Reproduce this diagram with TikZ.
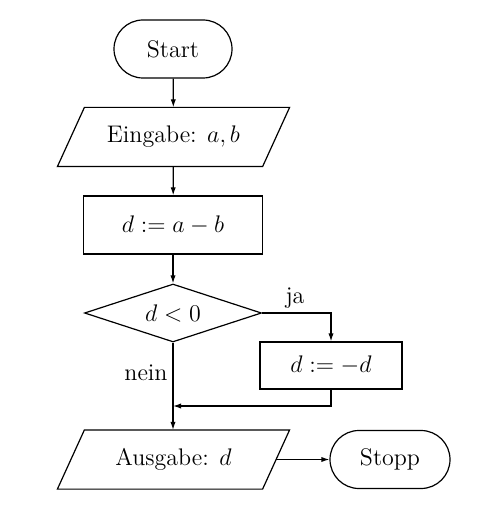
\documentclass[tikz,border=0pt]{standalone}
\usetikzlibrary{shapes.geometric,arrows.meta}
\begin{document}
\begin{tikzpicture}[x=0.5pt, y=-0.5pt, line width=0.6pt,
  every node/.style={font=\large},
  terminal/.style={draw, rounded corners=14.5pt, minimum width=59pt, minimum height=29pt},
  io/.style={minimum width=88.5pt, minimum height=29pt,
    append after command={\pgfextra{\draw ([xshift=-13.5pt]\tikzlastnode.south west) -- (\tikzlastnode.north west)
      -- ([xshift=13.5pt]\tikzlastnode.north east) -- (\tikzlastnode.south east) -- cycle;}}},
  process/.style={draw, minimum width=89.5pt, minimum height=29pt},
  decision/.style={draw, diamond, aspect=3, minimum width=88.5pt, minimum height=29pt, inner sep=0pt},
  flow/.style={-{Latex[length=4pt,width=2.6pt]}}]
  \useasboundingbox (0,0) rectangle (490,512);
  % Main column
  \node[terminal] (start) at (173, 49) {Start};
  \node[io] (in) at (173.5, 137) {Eingabe: $a, b$};
  \node[process] (sub) at (173, 225) {$d := a - b$};
  \node[decision] (test) at (173, 313) {$d < 0$};
  \node[io] (out) at (173.5, 459.5) {Ausgabe: $d$};
  % Side branch
  \node[process, minimum width=71pt, minimum height=23.5pt] (neg) at (331, 365.5) {$d := -d$};
  \node[terminal, minimum width=60pt] (stop) at (390, 459.5) {Stopp};
  \coordinate (merge) at (173, 406);

  \node (ja) at (295, 298) {ja};
  \node (nein) at (146, 373) {nein};

  % Connectors
  \draw[flow] (start) -- (in);
  \draw[flow] (in) -- (sub);
  \draw[flow] (sub) -- (test);
  \draw[flow] (test.east) -| (neg.north);
  \draw[flow] (neg.south) |- (merge);
  \draw[flow] (test.south) -- (test.south |- out.north);
  \draw[flow] ([xshift=6.75pt]out.east) -- (stop.west);
\end{tikzpicture}
\end{document}
